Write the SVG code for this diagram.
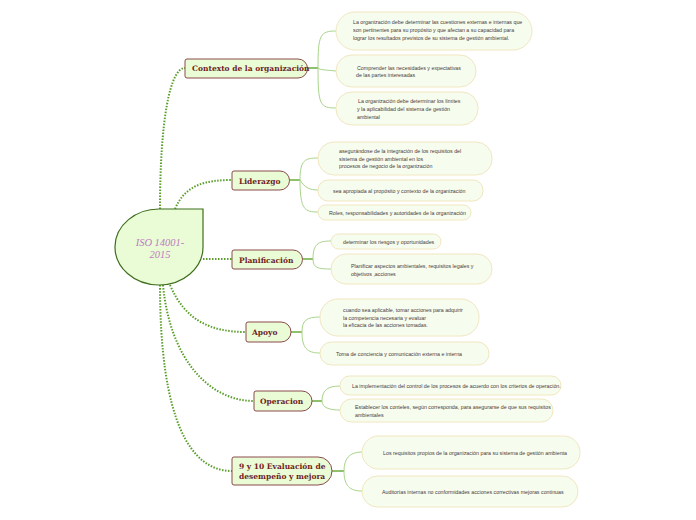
<svg xmlns="http://www.w3.org/2000/svg" width="696" height="520" viewBox="0 0 696 520">
<style>
.m{fill:#eafcd6;stroke:#8a4a4a;stroke-width:1}
.mt{font-family:"DejaVu Serif","Liberation Serif",serif;font-weight:bold;font-size:7.5px;fill:#6e1e1e}
.l{fill:#f7fdee;stroke:#f1e6c0;stroke-width:1}
.lt{font-family:"Liberation Sans",Arial,sans-serif;font-size:5.3px;fill:#4a3a3a}
.d{fill:none;stroke:#5a9e2a;stroke-width:2;stroke-dasharray:1.5 1.5}
.c{fill:none;stroke:#a9d48a;stroke-width:1}
.s{fill:none;stroke:#6aab3a;stroke-width:1.5}
</style>
<g id="connectors">
<path class="d" d="M160,209 C160,120 170,68 185,68"/>
<path class="d" d="M175,209 C185,185 205,180 232,180"/>
<path class="d" d="M203,259 L232,259"/>
<path class="d" d="M170,285 C185,320 210,332 246,332"/>
<path class="d" d="M163,285 C170,360 210,401 254,401"/>
<path class="d" d="M160,285 C160,420 190,471 232,471"/>
<path class="s" d="M307,68 H318"/><path class="s" d="M289,180 H300"/><path class="s" d="M302,259 H313"/><path class="s" d="M291,332 H302"/><path class="s" d="M312,401 H322"/><path class="s" d="M332,471 H344"/>
<path class="c" d="M318,68 C318,35 320,31 336,31 M318,68 C320,70 326,70 336,71 M318,68 C318,105 320,108 336,108"/>
<path class="c" d="M300,180 C300,160 305,158 318,158 M300,180 C305,188 310,190 318,190 M300,180 C300,210 305,212 318,212"/>
<path class="c" d="M313,259 C313,244 318,241 331,241 M313,259 C313,268 318,269 331,269"/>
<path class="c" d="M302,332 C302,320 307,317 320,317 M302,332 C302,348 307,353 320,353"/>
<path class="c" d="M322,401 C322,390 328,386 340,386 M322,401 C322,408 330,410 340,410"/>
<path class="c" d="M344,471 C344,458 350,452 362,452 M344,471 C344,486 350,491 362,491"/>
</g>
<g id="center">
<path d="M203,209 V247 A44,38 0 1 1 160,209 Z" fill="#eafcd6" stroke="#3f6e1e" stroke-width="1.2"/>
<text x="160" y="246" text-anchor="middle" font-family="Liberation Serif,serif" font-style="italic" font-size="10.5" fill="#c07ac0">ISO 14001-</text>
<text x="160" y="258" text-anchor="middle" font-family="Liberation Serif,serif" font-style="italic" font-size="10.5" fill="#c07ac0">2015</text>
</g>
<g id="n1"><path class="m" d="M187,59 H298 A9.5,9.5 0 0 1 298,78 H187 A2,2 0 0 1 185,76 V61 A2,2 0 0 1 187,59 Z"/><text class="mt" x="192" y="71">Contexto de la organización</text></g>
<g id="n2"><path class="m" d="M234,171 H280 A9.5,9.5 0 0 1 280,190 H234 A2,2 0 0 1 232,188 V173 A2,2 0 0 1 234,171 Z"/><text class="mt" x="239" y="184">Liderazgo</text></g>
<g id="n3"><path class="m" d="M234,250 H293 A9.5,9.5 0 0 1 293,269 H234 A2,2 0 0 1 232,267 V252 A2,2 0 0 1 234,250 Z"/><text class="mt" x="239" y="263">Planificación</text></g>
<g id="n4"><path class="m" d="M248,322 H281 A10,10 0 0 1 281,342 H248 A2,2 0 0 1 246,340 V324 A2,2 0 0 1 248,322 Z"/><text class="mt" x="252" y="335">Apoyo</text></g>
<g id="n5"><path class="m" d="M256,391 H302 A10,10 0 0 1 302,411 H256 A2,2 0 0 1 254,409 V393 A2,2 0 0 1 256,391 Z"/><text class="mt" x="260" y="404">Operacion</text></g>
<g id="n6"><path class="m" d="M234,457 H318 A14,14 0 0 1 318,485 H234 A2,2 0 0 1 232,483 V459 A2,2 0 0 1 234,457 Z"/><text class="mt" x="239" y="469">9 y 10 Evaluación de</text><text class="mt" x="239" y="479">desempeño y mejora</text></g>
<g id="l1a"><rect class="l" x="336" y="12" width="196" height="38" rx="19"/><text class="lt" x="353" y="24">La organización debe determinar las cuestiones externas e internas que</text><text class="lt" x="353" y="32">son pertinentes para su propósito  y que afectan a su capacidad para</text><text class="lt" x="353" y="40">lograr los resultados previstos de su sistema de gestión ambiental.</text></g>
<g id="l1b"><rect class="l" x="336" y="55" width="140" height="32" rx="16"/><text class="lt" x="357" y="70">Comprender las necesidades y expectativas</text><text class="lt" x="356" y="77">de las partes interesadas</text></g>
<g id="l1c"><rect class="l" x="336" y="92" width="142" height="33" rx="16"/><text class="lt" x="358" y="103">La organización debe determinar los límites</text><text class="lt" x="357" y="111">y la aplicabilidad del sistema de gestión</text><text class="lt" x="357" y="119">ambiental</text></g>
<g id="l2a"><rect class="l" x="318" y="142" width="174" height="33" rx="16"/><text class="lt" x="339" y="153">asegurándose de la integración de los requisitos del</text><text class="lt" x="339" y="161">sistema de gestión ambiental en los</text><text class="lt" x="339" y="168">procesos de negocio de la organización</text></g>
<g id="l2b"><rect class="l" x="318" y="180" width="165" height="21" rx="10"/><text class="lt" x="333" y="193">sea apropiada al propósito y contexto de la organización</text></g>
<g id="l2c"><rect class="l" x="318" y="205" width="153" height="15" rx="7.5"/><text class="lt" x="329" y="215">Roles, responsabilidades y autoridades de la organización</text></g>
<g id="l3a"><rect class="l" x="331" y="234" width="110" height="15" rx="7.5"/><text class="lt" x="343" y="244">determinar los riesgos y oportunidades</text></g>
<g id="l3b"><rect class="l" x="331" y="254" width="161" height="30" rx="15"/><text class="lt" x="351" y="268">Planificar aspectos ambientales, requisitos legales y</text><text class="lt" x="351" y="276">objetivos  ,acciones</text></g>
<g id="l4a"><rect class="l" x="320" y="299" width="159" height="37" rx="18"/><text class="lt" x="343" y="312">cuando sea aplicable, tomar acciones para adquirir</text><text class="lt" x="343" y="320">la competencia necesaria y evaluar</text><text class="lt" x="343" y="327">la eficacia de las acciones tomadas.</text></g>
<g id="l4b"><rect class="l" x="320" y="342" width="169" height="23" rx="11.5"/><text class="lt" x="336" y="356">Toma de conciencia y comunicación externa e interna</text></g>
<g id="l5a"><rect class="l" x="340" y="376" width="221" height="19" rx="9.5"/><text class="lt" x="352" y="388">La implementación del control de los procesos de acuerdo con los criterios de operación.</text></g>
<g id="l5b"><rect class="l" x="340" y="399" width="213" height="23" rx="11.5"/><text class="lt" x="355" y="409">Establecer los conteles, según corresponda, para asegurarse de que sus requisitos</text><text class="lt" x="355" y="417">ambientales</text></g>
<g id="l6a"><rect class="l" x="362" y="436" width="218" height="33" rx="16.5"/><text class="lt" x="383" y="455">Los requisitos propios de la organización para su sistema de gestión ambienta</text></g>
<g id="l6b"><rect class="l" x="362" y="476" width="216" height="31" rx="15.5"/><text class="lt" x="382" y="494">Auditorías internas no conformidades acciones correctivas mejoras continuas</text></g>
</svg>
